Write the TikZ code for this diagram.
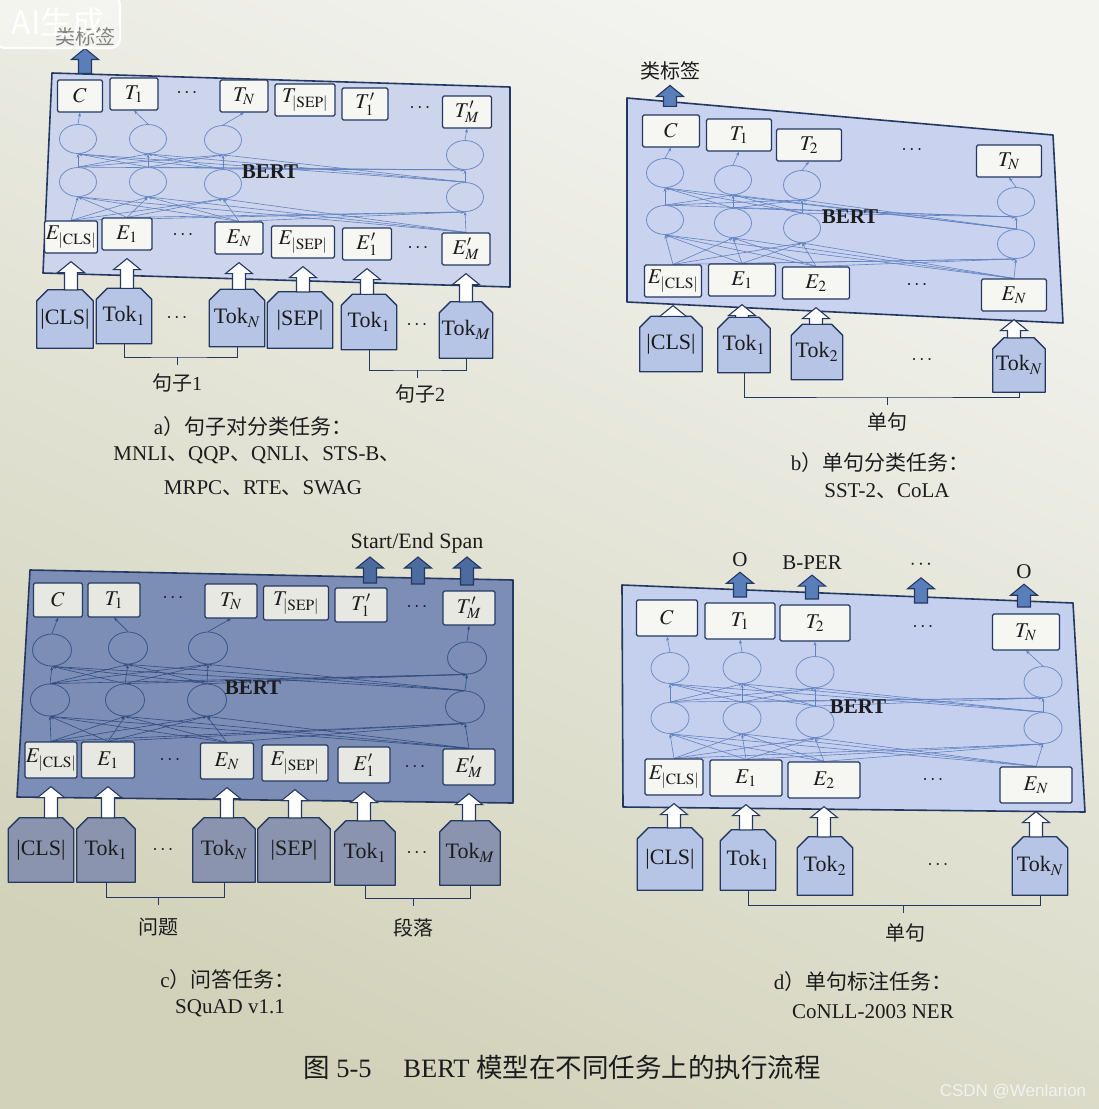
\documentclass[tikz,border=0pt]{standalone}
\usepackage{mathptmx}
\usepackage{fontspec}
\setmainfont{Liberation Serif}
\newfontfamily\cjk{Noto Sans CJK SC}
\newfontfamily\wsans{Liberation Sans}
\usetikzlibrary{shapes.geometric,arrows.meta,calc}
\pgfdeclarelayer{bg}\pgfdeclarelayer{mid}\pgfsetlayers{bg,mid,main}

\definecolor{ink}{RGB}{28,28,30}
\definecolor{edge}{RGB}{36,56,98}
\definecolor{boxfill}{RGB}{246,246,243}
\definecolor{outblue}{RGB}{90,126,186}
\definecolor{frameA}{RGB}{205,213,237}
\definecolor{frameB}{RGB}{201,211,239}
\definecolor{frameC}{RGB}{124,142,182}
\definecolor{frameD}{RGB}{197,208,239}
\definecolor{lineA}{RGB}{98,130,192}
\definecolor{lineC}{RGB}{48,76,128}
\definecolor{ellA}{RGB}{110,140,198}
\definecolor{ellC}{RGB}{58,84,134}
\definecolor{tokA}{RGB}{182,196,229}
\definecolor{tokC}{RGB}{138,148,174}
\definecolor{boxC}{RGB}{232,232,226}
\definecolor{paperTop}{RGB}{243,244,240}
\definecolor{paperBot}{RGB}{210,210,186}

\colorlet{pfill}{frameA}\colorlet{pline}{lineA}\colorlet{pell}{ellA}\colorlet{ptok}{tokA}\colorlet{pbox}{boxfill}

\tikzset{
  tbox/.style={draw=edge, line width=1.2pt, fill=pbox, rounded corners=1.5pt,
    minimum height=32pt, inner sep=0pt, text=ink, font=\fontsize{21}{22}\selectfont},
  ellnode/.style={ellipse, draw=pell, line width=0.8pt, fill=pfill,
    minimum width=37pt, minimum height=29pt, inner sep=0pt},
  conn/.style={draw=pline, line width=0.6pt, -{Stealth[length=4pt,width=3pt]}},
  dotnode/.style={inner sep=0pt, text=ink, font=\fontsize{20}{22}\selectfont},
  bert/.style={inner sep=0pt, text=ink, font=\fontsize{21}{22}\selectfont\bfseries},
  tokbase/.style={inner sep=0pt, text=ink, font=\fontsize{22}{24}\selectfont},
  labeltext/.style={inner sep=2pt, text=ink, font=\fontsize{20}{22}\selectfont\cjk},
  captext/.style={inner sep=2pt, text=ink, font=\fontsize{21}{24}\selectfont},
  bracket/.style={draw=edge, line width=1pt},
  panelframe/.style={draw=edge, line width=1.6pt, fill=pfill, line join=round},
}

\newcommand\dun{{\cjk 、}}
\newcommand\blockarrow[3][white]{%
  \draw[draw=edge, line width=1.1pt, fill=#1, line join=miter]
    let \p1=#2, \p2=#3 in
    (\x2-6.5pt,\y1) -- (\x2-6.5pt,\y2-11pt) -- (\x2-13.5pt,\y2-11pt) -- (\x2,\y2)
    -- (\x2+13.5pt,\y2-11pt) -- (\x2+6.5pt,\y2-11pt) -- (\x2+6.5pt,\y1) -- cycle;}
\newcommand\toknode[6]{%
  \node[tokbase, minimum width=#4pt, minimum height=#5pt] (#1) at (#2,#3) {#6};
  \begin{pgfonlayer}{mid}
  \draw[draw=edge, line width=1.3pt, fill=ptok, line join=round]
    (#1.south west) -- ([yshift=-11pt]#1.north west) -- ([xshift=11pt]#1.north west)
    -- ([xshift=-11pt]#1.north east) -- ([yshift=-11pt]#1.north east)
    -- (#1.south east) -- cycle;
  \end{pgfonlayer}}

\begin{document}
\begin{tikzpicture}[x=1pt,y=-1pt]
\useasboundingbox (0,0) rectangle (1099,1109);
\begin{pgfonlayer}{bg}
\shade[shading=axis, top color=paperTop, bottom color=paperBot, shading angle=-25]
  (0,0) rectangle (1099,1109);
\end{pgfonlayer}

%================ panel a ================
\begin{scope}
\colorlet{pfill}{frameA}\colorlet{pline}{lineA}\colorlet{pell}{ellA}\colorlet{ptok}{tokA}\colorlet{pbox}{boxfill}
\begin{pgfonlayer}{bg}
\draw[panelframe] (52,73) -- (510,87) -- (510,287) -- (43,273) -- cycle;
\end{pgfonlayer}
\node[tbox, minimum width=45pt] (aC)  at (80,96)  {$C$};
\node[tbox, minimum width=48pt] (aT1) at (134,94) {$T_1$};
\node[dotnode] (aD1) at (187,93) {$\cdots$};
\node[tbox, minimum width=48pt] (aTN) at (244,96) {$T_N$};
\node[tbox, minimum width=60pt] (aTS) at (305,100) {$T_{\mathrm{|SEP|}}$};
\node[tbox, minimum width=46pt] (aTP) at (365,104) {$T'_1$};
\node[dotnode] (aD2) at (420,108) {$\cdots$};
\node[tbox, minimum width=49pt] (aTM) at (467,112) {$T'_M$};
\node[ellnode] (aU1) at (78,139) {};
\node[ellnode] (aU2) at (148,139) {};
\node[ellnode] (aU3) at (223,140) {};
\node[ellnode] (aU4) at (465,155) {};
\node[ellnode] (aL1) at (78,182) {};
\node[ellnode] (aL2) at (148,182) {};
\node[ellnode] (aL3) at (223,184) {};
\node[ellnode] (aL4) at (465,197) {};
\node[bert] (aB) at (270,172) {BERT};
\node[tbox, minimum width=53pt] (aE0) at (71,237)  {$E_{\mathrm{|CLS|}}$};
\node[tbox, minimum width=50pt] (aE1) at (127,234) {$E_1$};
\node[dotnode] (aD3) at (183,235) {$\cdots$};
\node[tbox, minimum width=48pt] (aEN) at (239,238) {$E_N$};
\node[tbox, minimum width=63pt] (aES) at (303,242) {$E_{\mathrm{|SEP|}}$};
\node[tbox, minimum width=49pt] (aEP) at (367,244) {$E'_1$};
\node[dotnode] (aD4) at (418,248) {$\cdots$};
\node[tbox, minimum width=48pt] (aEM) at (466,249) {$E'_M$};
\toknode{aK0}{65}{319}{56}{58}{|CLS|}
\toknode{aK1}{124}{316}{55}{55}{Tok$_1$}
\node[dotnode] (aD5) at (177,318) {$\cdots$};
\toknode{aKN}{237}{318}{55}{57}{Tok$_N$}
\toknode{aKS}{300}{320}{65}{56}{|SEP|}
\toknode{aKP}{369}{322}{55}{55}{Tok$_1$}
\node[dotnode] (aD6) at (417,325) {$\cdots$};
\toknode{aKM}{466}{330}{53}{56}{Tok$_M$}
\begin{pgfonlayer}{mid}
\foreach \s in {aE0,aE1,aEN,aEM}{\foreach \t in {aL1,aL2,aL3,aL4}{\draw[conn] (\s.north) -- (\t.south);}}
\foreach \s in {aL1,aL2,aL3,aL4}{\foreach \t in {aU1,aU2,aU3,aU4}{\draw[conn] (\s.north) -- (\t.south);}}
\draw[conn] (aU1.north) -- (aC.south);
\draw[conn] (aU2.north) -- (aT1.south);
\draw[conn] (aU3.north) -- (aTN.south);
\draw[conn] (aU4.north) -- (aTM.south);
\end{pgfonlayer}
\blockarrow{(aK0.north)}{([yshift=-8pt]aE0.south)}
\blockarrow{(aK1.north)}{([yshift=-8pt]aE1.south)}
\blockarrow{(aKN.north)}{([yshift=-8pt]aEN.south)}
\blockarrow{(aKS.north)}{([yshift=-8pt]aES.south)}
\blockarrow{(aKP.north)}{([yshift=-8pt]aEP.south)}
\blockarrow{(aKM.north)}{([yshift=-8pt]aEM.south)}
\node[labeltext] (aOut) at (85,37) {类标签};
\blockarrow[outblue]{([xshift=5pt,yshift=6pt]aC.north)}{(aOut.south)}
\coordinate (aG1) at (177,357);
\draw[bracket] (aK1.south) |- (aG1) -| (aKN.south);
\draw[bracket] (aG1) -- ++(0,8);
\node[labeltext] (aS1) at (177,383) {句子{\rmfamily 1}};
\coordinate (aG2) at (417,370);
\draw[bracket] (aKP.south) |- (aG2) -| (aKM.south);
\draw[bracket] (aG2) -- ++(0,8);
\node[labeltext] (aS2) at (420,394) {句子{\rmfamily 2}};
\node[captext] (aCap1) at (253,427) {a{\cjk ）句子对分类任务：}};
\node[captext] (aCap2) at (257,455) {MNLI\dun QQP\dun QNLI\dun STS-B\dun};
\node[captext] (aCap3) at (263,488) {MRPC\dun RTE\dun SWAG};
\end{scope}

%================ panel b ================
\begin{scope}
\colorlet{pfill}{frameB}\colorlet{pline}{lineA}\colorlet{pell}{ellA}\colorlet{ptok}{tokA}\colorlet{pbox}{boxfill}
\begin{pgfonlayer}{bg}
\draw[panelframe] (627,98) -- (1053,135) -- (1063,323) -- (627,302) -- cycle;
\end{pgfonlayer}
\node[tbox, minimum width=57pt] (bC)  at (671,131) {$C$};
\node[tbox, minimum width=65pt] (bT1) at (739,135) {$T_1$};
\node[tbox, minimum width=65pt] (bT2) at (809,145) {$T_2$};
\node[dotnode] (bD1) at (912,150) {$\cdots$};
\node[tbox, minimum width=65pt] (bTN) at (1009,161) {$T_N$};
\node[ellnode] (bU1) at (665,173) {};
\node[ellnode] (bU2) at (733,180) {};
\node[ellnode] (bU3) at (802,185) {};
\node[ellnode] (bU4) at (1016,202) {};
\node[ellnode] (bL1) at (665,220) {};
\node[ellnode] (bL2) at (733,223) {};
\node[ellnode] (bL3) at (802,228) {};
\node[ellnode] (bL4) at (1016,244) {};
\node[bert] (bB) at (850,217) {BERT};
\node[tbox, minimum width=57pt] (bE0) at (673,281) {$E_{\mathrm{|CLS|}}$};
\node[tbox, minimum width=67pt] (bE1) at (742,280) {$E_1$};
\node[tbox, minimum width=67pt] (bE2) at (816,283) {$E_2$};
\node[dotnode] (bD2) at (917,285) {$\cdots$};
\node[tbox, minimum width=65pt] (bEN) at (1014,295) {$E_N$};
\toknode{bK0}{671}{344}{62}{55}{|CLS|}
\toknode{bK1}{744}{345}{52}{55}{Tok$_1$}
\toknode{bK2}{817}{352}{51}{55}{Tok$_2$}
\node[dotnode] (bD3) at (922,360) {$\cdots$};
\toknode{bKN}{1019}{365}{52}{54}{Tok$_N$}
\begin{pgfonlayer}{mid}
\foreach \s in {bE0,bE1,bE2,bEN}{\foreach \t in {bL1,bL2,bL3,bL4}{\draw[conn] (\s.north) -- (\t.south);}}
\foreach \s in {bL1,bL2,bL3,bL4}{\foreach \t in {bU1,bU2,bU3,bU4}{\draw[conn] (\s.north) -- (\t.south);}}
\draw[conn] (bU1.north) -- (bC.south);
\draw[conn] (bU2.north) -- (bT1.south);
\draw[conn] (bU3.north) -- (bT2.south);
\draw[conn] (bU4.north) -- (bTN.south);
\end{pgfonlayer}
\blockarrow{(bK0.north)}{([yshift=-8pt]bE0.south)}
\blockarrow{(bK1.north)}{([yshift=-8pt]bE1.south)}
\blockarrow{(bK2.north)}{([yshift=-8pt]bE2.south)}
\blockarrow{(bKN.north)}{([yshift=-8pt]bEN.south)}
\node[labeltext] (bOut) at (670,71) {类标签};
\blockarrow[outblue]{([yshift=8pt]bC.north)}{([yshift=-3pt]bOut.south)}
\coordinate (bG) at (887,397);
\draw[bracket] (bK1.south) |- (bG) -| (bKN.south);
\draw[bracket] (bG) -- ++(0,8);
\node[labeltext] (bS) at (887,422) {单句};
\node[captext] (bCap1) at (880,463) {b{\cjk ）单句分类任务：}};
\node[captext] (bCap2) at (887,491) {SST-2\dun CoLA};
\end{scope}

%================ panel c ================
\begin{scope}
\colorlet{pfill}{frameC}\colorlet{pline}{lineC}\colorlet{pell}{ellC}\colorlet{ptok}{tokC}\colorlet{pbox}{boxC}
\begin{pgfonlayer}{bg}
\draw[panelframe] (30,570) -- (513,580) -- (513,803) -- (17,797) -- cycle;
\end{pgfonlayer}
\node[tbox, minimum width=49pt, minimum height=34pt] (cC)  at (58,600)  {$C$};
\node[tbox, minimum width=52pt, minimum height=34pt] (cT1) at (114,600) {$T_1$};
\node[dotnode] (cD1) at (173,598) {$\cdots$};
\node[tbox, minimum width=52pt, minimum height=34pt] (cTN) at (231,601) {$T_N$};
\node[tbox, minimum width=65pt, minimum height=34pt] (cTS) at (296,603) {$T_{\mathrm{|SEP|}}$};
\node[tbox, minimum width=52pt, minimum height=34pt] (cTP) at (361,605) {$T'_1$};
\node[dotnode] (cD2) at (417,607) {$\cdots$};
\node[tbox, minimum width=52pt, minimum height=34pt] (cTM) at (469,608) {$T'_M$};
\node[ellnode, minimum width=39pt, minimum height=32pt] (cU1) at (52,650) {};
\node[ellnode, minimum width=39pt, minimum height=32pt] (cU2) at (128,648) {};
\node[ellnode, minimum width=39pt, minimum height=32pt] (cU3) at (208,648) {};
\node[ellnode, minimum width=39pt, minimum height=32pt] (cU4) at (467,658) {};
\node[ellnode, minimum width=39pt, minimum height=32pt] (cL1) at (50,700) {};
\node[ellnode, minimum width=39pt, minimum height=32pt] (cL2) at (125,700) {};
\node[ellnode, minimum width=39pt, minimum height=32pt] (cL3) at (207,700) {};
\node[ellnode, minimum width=39pt, minimum height=32pt] (cL4) at (465,707) {};
\node[bert] (cB) at (253,688) {BERT};
\node[tbox, minimum width=52pt, minimum height=36pt] (cE0) at (51,760)  {$E_{\mathrm{|CLS|}}$};
\node[tbox, minimum width=53pt, minimum height=36pt] (cE1) at (108,760) {$E_1$};
\node[dotnode] (cD3) at (170,760) {$\cdots$};
\node[tbox, minimum width=53pt, minimum height=36pt] (cEN) at (227,761) {$E_N$};
\node[tbox, minimum width=66pt, minimum height=36pt] (cES) at (295,763) {$E_{\mathrm{|SEP|}}$};
\node[tbox, minimum width=52pt, minimum height=36pt] (cEP) at (364,765) {$E'_1$};
\node[dotnode] (cD4) at (415,767) {$\cdots$};
\node[tbox, minimum width=52pt, minimum height=36pt] (cEM) at (469,767) {$E'_M$};
\toknode{cK0}{41}{850}{65}{64}{|CLS|}
\toknode{cK1}{106}{850}{58}{64}{Tok$_1$}
\node[dotnode] (cD5) at (163,850) {$\cdots$};
\toknode{cKN}{224}{850}{62}{64}{Tok$_N$}
\toknode{cKS}{294}{850}{72}{64}{|SEP|}
\toknode{cKP}{365}{853}{60}{64}{Tok$_1$}
\node[dotnode] (cD6) at (417,853) {$\cdots$};
\toknode{cKM}{470}{853}{60}{64}{Tok$_M$}
\begin{pgfonlayer}{mid}
\foreach \s in {cE0,cE1,cEN,cEM}{\foreach \t in {cL1,cL2,cL3,cL4}{\draw[conn] (\s.north) -- (\t.south);}}
\foreach \s in {cL1,cL2,cL3,cL4}{\foreach \t in {cU1,cU2,cU3,cU4}{\draw[conn] (\s.north) -- (\t.south);}}
\draw[conn] (cU1.north) -- (cC.south);
\draw[conn] (cU2.north) -- (cT1.south);
\draw[conn] (cU3.north) -- (cTN.south);
\draw[conn] (cU4.north) -- (cTM.south);
\end{pgfonlayer}
\blockarrow{(cK0.north)}{([yshift=-8pt]cE0.south)}
\blockarrow{(cK1.north)}{([yshift=-8pt]cE1.south)}
\blockarrow{(cKN.north)}{([yshift=-8pt]cEN.south)}
\blockarrow{(cKS.north)}{([yshift=-8pt]cES.south)}
\blockarrow{(cKP.north)}{([yshift=-8pt]cEP.south)}
\blockarrow{(cKM.north)}{([yshift=-8pt]cEM.south)}
\node[captext, font=\fontsize{22}{24}\selectfont] (cSpan) at (417,543) {Start/End Span};
\coordinate (cO1b) at (370,583); \coordinate (cO1t) at (370,557);
\coordinate (cO2b) at (418,584); \coordinate (cO2t) at (418,557);
\coordinate (cO3b) at (467,585); \coordinate (cO3t) at (467,557);
\blockarrow[outblue!85!black]{(cO1b)}{(cO1t)}
\blockarrow[outblue!85!black]{(cO2b)}{(cO2t)}
\blockarrow[outblue!85!black]{(cO3b)}{(cO3t)}
\coordinate (cG1) at (158,897);
\draw[bracket] (cK1.south) |- (cG1) -| (cKN.south);
\draw[bracket] (cG1) -- ++(0,8);
\node[labeltext] (cS1) at (158,927) {问题};
\coordinate (cG2) at (413,898);
\draw[bracket] (cKP.south) |- (cG2) -| (cKM.south);
\draw[bracket] (cG2) -- ++(0,8);
\node[labeltext] (cS2) at (413,928) {段落};
\node[captext] (cCap1) at (228,980) {c{\cjk ）问答任务：}};
\node[captext] (cCap2) at (230,1008) {SQuAD v1.1};
\end{scope}

%================ panel d ================
\begin{scope}
\colorlet{pfill}{frameD}\colorlet{pline}{lineA}\colorlet{pell}{ellA}\colorlet{ptok}{tokA}\colorlet{pbox}{boxfill}
\begin{pgfonlayer}{bg}
\draw[panelframe] (622,585) -- (1073,603) -- (1085,812) -- (623,807) -- cycle;
\end{pgfonlayer}
\node[tbox, minimum width=61pt, minimum height=36pt] (dC)  at (667,618) {$C$};
\node[tbox, minimum width=70pt, minimum height=36pt] (dT1) at (740,621) {$T_1$};
\node[tbox, minimum width=70pt, minimum height=36pt] (dT2) at (815,623) {$T_2$};
\node[dotnode] (dD1) at (923,627) {$\cdots$};
\node[tbox, minimum width=67pt, minimum height=36pt] (dTN) at (1026,632) {$T_N$};
\node[ellnode, minimum width=38pt, minimum height=31pt] (dU1) at (670,668) {};
\node[ellnode, minimum width=38pt, minimum height=31pt] (dU2) at (742,668) {};
\node[ellnode, minimum width=38pt, minimum height=31pt] (dU3) at (815,672) {};
\node[ellnode, minimum width=38pt, minimum height=31pt] (dU4) at (1043,682) {};
\node[ellnode, minimum width=38pt, minimum height=31pt] (dL1) at (670,718) {};
\node[ellnode, minimum width=38pt, minimum height=31pt] (dL2) at (742,718) {};
\node[ellnode, minimum width=38pt, minimum height=31pt] (dL3) at (815,722) {};
\node[ellnode, minimum width=38pt, minimum height=31pt] (dL4) at (1043,728) {};
\node[bert] (dB) at (858,707) {BERT};
\node[tbox, minimum width=58pt, minimum height=36pt] (dE0) at (674,777) {$E_{\mathrm{|CLS|}}$};
\node[tbox, minimum width=72pt, minimum height=36pt] (dE1) at (746,778) {$E_1$};
\node[tbox, minimum width=72pt, minimum height=36pt] (dE2) at (824,780) {$E_2$};
\node[dotnode] (dD2) at (933,780) {$\cdots$};
\node[tbox, minimum width=72pt, minimum height=36pt] (dEN) at (1036,785) {$E_N$};
\toknode{dK0}{670}{859}{65}{62}{|CLS|}
\toknode{dK1}{748}{860}{55}{60}{Tok$_1$}
\toknode{dK2}{825}{866}{55}{58}{Tok$_2$}
\node[dotnode] (dD3) at (938,865) {$\cdots$};
\toknode{dKN}{1040}{866}{55}{58}{Tok$_N$}
\begin{pgfonlayer}{mid}
\foreach \s in {dE0,dE1,dE2,dEN}{\foreach \t in {dL1,dL2,dL3,dL4}{\draw[conn] (\s.north) -- (\t.south);}}
\foreach \s in {dL1,dL2,dL3,dL4}{\foreach \t in {dU1,dU2,dU3,dU4}{\draw[conn] (\s.north) -- (\t.south);}}
\draw[conn] (dU1.north) -- (dC.south);
\draw[conn] (dU2.north) -- (dT1.south);
\draw[conn] (dU3.north) -- (dT2.south);
\draw[conn] (dU4.north) -- (dTN.south);
\end{pgfonlayer}
\blockarrow{(dK0.north)}{([yshift=-8pt]dE0.south)}
\blockarrow{(dK1.north)}{([yshift=-8pt]dE1.south)}
\blockarrow{(dK2.north)}{([yshift=-8pt]dE2.south)}
\blockarrow{(dKN.north)}{([yshift=-8pt]dEN.south)}
\node[captext] (dO1) at (740,560) {O};
\node[captext] (dO2) at (812,563) {B-PER};
\node[captext] (dO3) at (921,565) {$\cdots$};
\node[captext] (dO4) at (1024,572) {O};
\coordinate (dA1) at (740,597);
\coordinate (dA2) at (812,599);
\coordinate (dA3) at (921,603);
\coordinate (dA4) at (1024,607);
\blockarrow[outblue]{(dA1)}{([yshift=-3pt]dO1.south)}
\blockarrow[outblue]{(dA2)}{([yshift=-3pt]dO2.south)}
\blockarrow[outblue]{(dA3)}{([yshift=-6pt]dO3.south)}
\blockarrow[outblue]{(dA4)}{([yshift=-3pt]dO4.south)}
\coordinate (dG) at (903,905);
\draw[bracket] (dK1.south) |- (dG) -| (dKN.south);
\draw[bracket] (dG) -- ++(0,8);
\node[labeltext] (dS) at (905,933) {单句};
\node[captext] (dCap1) at (863,982) {d{\cjk ）单句标注任务：}};
\node[captext] (dCap2) at (873,1012) {CoNLL-2003 NER};
\end{scope}

%================ figure caption and marks ================
\node[captext, font=\fontsize{26.5}{28}\selectfont] (fig) at (562,1067)
  {{\cjk 图} 5-5\hspace{1.2em}BERT {\cjk 模型在不同任务上的执行流程}};
\node[draw=white, line width=2pt, fill=white, fill opacity=0.45, text opacity=1,
      rounded corners=9pt, minimum width=124pt, minimum height=52pt, text=white,
      font=\fontsize{32}{34}\selectfont\cjk] (wm) at (58,22) {AI生成};
\node[text=gray!10, font=\fontsize{17}{18}\selectfont\wsans] (csdn) at (1013,1092) {CSDN @Wenlarion};
\end{tikzpicture}
\end{document}
